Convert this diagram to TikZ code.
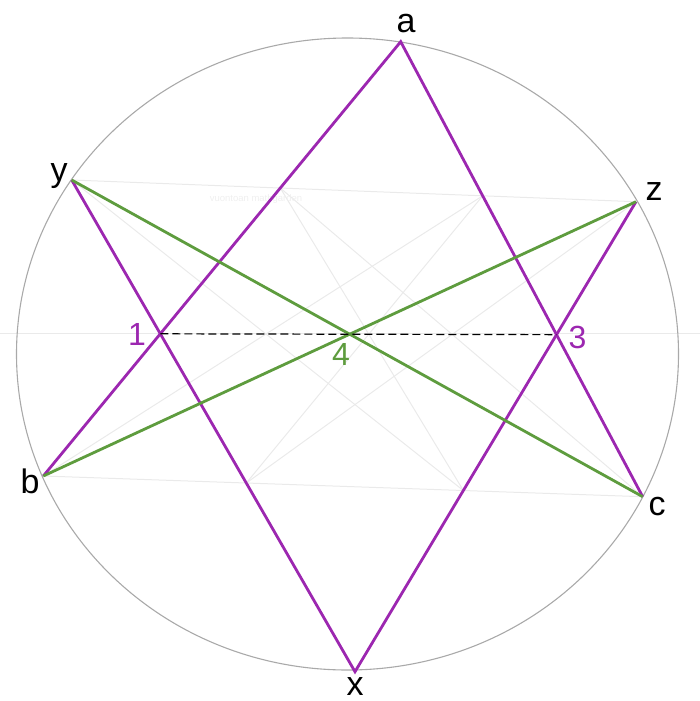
\documentclass[tikz,border=0pt]{standalone}
\usepackage{fontspec}
\setmainfont{Liberation Sans}
\definecolor{pascalpurple}{HTML}{9C27B0}
\definecolor{pascalgreen}{HTML}{5E9C3E}
\definecolor{rimgray}{HTML}{A9A9A9}
\definecolor{faintgray}{HTML}{EAEAEA}
\definecolor{wmgray}{HTML}{EFEFEF}
\begin{document}
\begin{tikzpicture}[x=1pt,y=-1pt,
  purpleline/.style={pascalpurple,line width=2.8pt},
  greenline/.style={pascalgreen,line width=2.8pt},
  faintline/.style={faintgray,line width=1pt},
  rim/.style={rimgray,line width=1.1pt},
  dashline/.style={black,line width=1.2pt,dash pattern=on 8pt off 4pt},
  lbl/.style={anchor=base,inner sep=0pt,font=\fontsize{34}{40}\selectfont},
  numlbl/.style={anchor=base,inner sep=0pt,font=\fontsize{32}{38}\selectfont}]
\useasboundingbox (0,0) rectangle (700,701);
\coordinate (o) at (347.5,354);
\coordinate (a) at (400.7,41.7);
\coordinate (y) at (71.7,180);
\coordinate (z) at (636,201.7);
\coordinate (b) at (43.3,476);
\coordinate (c) at (642.7,496.7);
\coordinate (x) at (355,671.7);
\coordinate (one) at (intersection of a--b and y--x);
\coordinate (three) at (intersection of a--c and z--x);
\coordinate (four) at (intersection of y--c and b--z);
\coordinate (p1) at (intersection of a--b and y--z);
\coordinate (p2) at (intersection of a--c and y--z);
\coordinate (p3) at (intersection of y--x and b--c);
\coordinate (p4) at (intersection of z--x and b--c);
\coordinate (hl) at (0,333.5);
\coordinate (hr) at (700,333.5);
\draw[faintline] (hl) -- (hr);
\draw[faintline] (y) -- (z);
\draw[faintline] (b) -- (c);
\draw[faintline] (y) -- (p4);
\draw[faintline] (p1) -- (c);
\draw[faintline] (p1) -- (p4);
\draw[faintline] (p2) -- (p3);
\draw[faintline] (b) -- (p2);
\draw[faintline] (z) -- (p3);
\node[anchor=base,inner sep=0pt,font=\fontsize{9.5}{11}\selectfont,text=wmgray] (wm) at (256,201) {vuontoan mathgarden};
\draw[rim] (o) ellipse [x radius=331pt,y radius=316pt];
\draw[purpleline] (b) -- (a) -- (c);
\draw[purpleline] (y) -- (x) -- (z);
\draw[greenline] (y) -- (c);
\draw[greenline] (b) -- (z);
\draw[dashline] (one) -- (three);
\node[lbl] (la) at (406,33) {a};
\node[lbl] (ly) at (59,181) {y};
\node[lbl] (lz) at (654,200) {z};
\node[lbl] (lb) at (30,493) {b};
\node[lbl] (lc) at (657,515) {c};
\node[lbl] (lx) at (355,695) {x};
\node[numlbl,text=pascalpurple] (l1) at (137,345) {1};
\node[numlbl,text=pascalpurple] (l3) at (577.5,348) {3};
\node[numlbl,text=pascalgreen] (l4) at (341,365) {4};
\end{tikzpicture}
\end{document}
